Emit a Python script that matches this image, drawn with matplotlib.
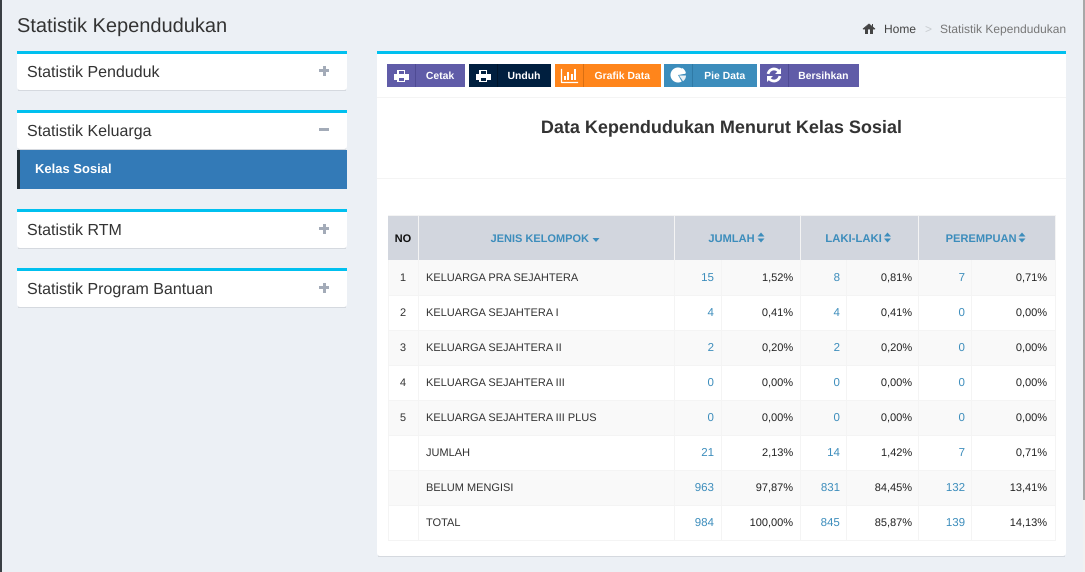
import matplotlib
matplotlib.use('Agg')
from matplotlib import pyplot as plt
from matplotlib import patheffects
from matplotlib.patches import Rectangle, FancyBboxPatch, Wedge, Polygon, Arc

plt.rcParams['font.family'] = ['Liberation Sans', 'DejaVu Sans']

W, H = 1085, 572

# table data
row_no = ['1', '2', '3', '4', '5', '', '', '']
row_names = ['KELUARGA PRA SEJAHTERA', 'KELUARGA SEJAHTERA I', 'KELUARGA SEJAHTERA II',
             'KELUARGA SEJAHTERA III', 'KELUARGA SEJAHTERA III PLUS', 'JUMLAH',
             'BELUM MENGISI', 'TOTAL']
jumlah = [15, 4, 2, 0, 0, 21, 963, 984]
jumlah_pct = ['1,52%', '0,41%', '0,20%', '0,00%', '0,00%', '2,13%', '97,87%', '100,00%']
laki = [8, 4, 2, 0, 0, 14, 831, 845]
laki_pct = ['0,81%', '0,41%', '0,20%', '0,00%', '0,00%', '1,42%', '84,45%', '85,87%']
perempuan = [7, 0, 0, 0, 0, 7, 132, 139]
perempuan_pct = ['0,71%', '0,00%', '0,00%', '0,00%', '0,00%', '0,71%', '13,41%', '14,13%']

headers = ['JENIS KELOMPOK', 'JUMLAH', 'LAKI-LAKI', 'PEREMPUAN']
side_panels = ['Statistik Penduduk', 'Statistik Keluarga', 'Statistik RTM', 'Statistik Program Bantuan']
button_labels = ['Cetak', 'Unduh', 'Grafik Data', 'Pie Data', 'Bersihkan']

BG = '#ecf0f5'
CYAN = '#00c0ef'
LINK = '#3c8dbc'
TEXT = '#333333'
LINE = '#f4f4f4'

fig = plt.figure(figsize=(W / 100, H / 100), dpi=100, facecolor=BG)
ax = fig.add_axes([0, 0, 1, 1])
ax.set_xlim(0, W)
ax.set_ylim(H, 0)
ax.axis('off')


def rect(x0, y0, x1, y1, color, z=1):
    ax.add_patch(Rectangle((x0, y0), x1 - x0, y1 - y0, fc=color, ec='none', lw=0, zorder=z))


def txt(x, y, s, size, color=TEXT, ha='left', weight='normal', z=5):
    # size is in css pixels, y is the baseline
    # the path effect keeps every baseline on the same pixel row
    ax.text(x, y, s, fontsize=size * 0.72, color=color, ha=ha, va='baseline',
            fontweight=weight, zorder=z, path_effects=[patheffects.Normal()])


def card(x0, y0, x1, y1):
    rect(x0 + 1, y1 - 1, x1 - 1, y1 + 1, '#d5d9df', 1)
    ax.add_patch(FancyBboxPatch((x0 + 2, y0 + 2), x1 - x0 - 4, y1 - y0 - 4,
                                boxstyle='round,pad=2,rounding_size=3', fc='white', ec='none', zorder=2))
    rect(x0, y0, x1, y0 + 3, CYAN, 3)


def printer(cx, cy, color, hole):
    rect(cx - 4, cy - 6, cx + 4, cy - 2, color, 6)
    rect(cx - 2.5, cy - 4.5, cx + 2.5, cy - 2, hole, 6)
    rect(cx - 7.5, cy - 2, cx + 7.5, cy + 4, color, 6)
    rect(cx - 4, cy + 1, cx + 4, cy + 6.5, color, 6)
    rect(cx - 2.5, cy + 2, cx + 2.5, cy + 5, hole, 7)


def bars_icon(cx, cy):
    ax.plot([cx - 8, cx - 8, cx + 8], [cy - 6, cy + 6.5, cy + 6.5], color='white', lw=0.9, zorder=6)
    for dx, top in [(-5.5, 1), (-2, -3), (1.5, -1), (4.5, -6)]:
        rect(cx + dx, cy + top, cx + dx + 2.2, cy + 5, 'white', 6)


def pie_icon(cx, cy):
    # y axis is flipped, so angles run clockwise on screen
    ax.add_patch(Wedge((cx, cy), 7.5, 60, 350, fc='white', ec='none', zorder=6))
    ax.add_patch(Wedge((cx + 1, cy + 0.5), 7, 0, 55, fc='#e8eff4', ec='none', zorder=6))
    ax.add_patch(Wedge((cx + 0.5, cy - 0.5), 7.5, 300, 350, fc='white', ec='none', zorder=6))


def refresh_icon(cx, cy):
    ax.add_patch(Arc((cx, cy), 12, 12, theta1=190, theta2=330, ec='white', lw=2, zorder=6))
    ax.add_patch(Arc((cx, cy), 12, 12, theta1=10, theta2=150, ec='white', lw=2, zorder=6))
    ax.add_patch(Polygon([(cx + 7, cy - 7), (cx + 7, cy - 1), (cx + 1, cy - 1)], fc='white', ec='none', zorder=6))
    ax.add_patch(Polygon([(cx - 7, cy + 7), (cx - 7, cy + 1), (cx - 1, cy + 1)], fc='white', ec='none', zorder=6))


def home_icon(cx, cy, color):
    ax.add_patch(Polygon([(cx - 6, cy), (cx, cy - 5), (cx + 6, cy)], fc=color, ec=color, lw=0.6, zorder=6))
    rect(cx - 4, cy - 0.5, cx - 0.8, cy + 4.5, color, 6)
    rect(cx + 0.8, cy - 0.5, cx + 4, cy + 4.5, color, 6)
    rect(cx + 2.5, cy - 5, cx + 4, cy - 1.5, color, 6)


def sort_icon(cx, cy, up=True):
    color = LINK
    if up:
        ax.add_patch(Polygon([(cx - 3.5, cy - 1), (cx + 3.5, cy - 1), (cx, cy - 5)], fc=color, ec='none', zorder=6))
    ax.add_patch(Polygon([(cx - 3.5, cy + 1), (cx + 3.5, cy + 1), (cx, cy + 5)], fc=color, ec='none', zorder=6))


# page edges
rect(0, 0, 1.5, H, '#3a3f44', 1)
rect(1083, 0, W, H, '#f1f1f1', 1)
rect(1083, 0, W, 500, '#a8a8a8', 1)

txt(17, 32, 'Statistik Kependudukan', 20)
home_icon(869, 29, '#444444')
txt(884, 33, 'Home', 12, '#444444')
txt(925, 33, '>', 12, '#c8ccd0')
txt(940, 33, 'Statistik Kependudukan', 12, '#777777')

# side panels
panel_tops = [51, 110, 209, 268]
for name, top in zip(side_panels, panel_tops):
    bottom = top + 39
    card(17, top, 347, bottom)
    txt(27, top + 26, name, 16)
    rect(319, top + 18, 329, top + 21, '#a3abb8', 6)
    if name != 'Statistik Keluarga':
        rect(322.5, top + 14.5, 325.5, top + 24.5, '#a3abb8', 6)
rect(17, 150, 347, 189, '#337ab7', 4)
rect(17, 150, 20, 189, '#222d32', 5)
txt(35, 173, 'Kelas Sosial', 13, 'white', weight='bold')

# main box
card(377, 51, 1066, 556)
rect(377, 97, 1066, 98, '#f4f4f4', 3)
rect(377, 178, 1066, 179, '#f4f4f4', 3)
txt(721.5, 133, 'Data Kependudukan Menurut Kelas Sosial', 18, ha='center', weight='bold')

# buttons
button_edges = [(387, 465, 415), (469, 551, 497), (555, 661, 583.5), (664, 757, 692.5), (760, 859, 788)]
button_colors = ['#605ca8', '#001f3f', '#ff851b', '#3c8dbc', '#605ca8']
divider_colors = ['#4f4b94', '#00152b', '#d96f12', '#2f7aa6', '#4f4b94']
for label, (x0, x1, xd), col, dcol in zip(button_labels, button_edges, button_colors, divider_colors):
    rect(x0, 64, x1, 87, col, 4)
    rect(xd - 0.5, 64, xd + 0.5, 87, dcol, 5)
    txt((xd + x1) / 2, 79, label, 10.4, 'white', ha='center', weight='bold')
printer(401, 75.5, 'white', button_colors[0])
printer(483, 75.5, 'white', button_colors[1])
bars_icon(569, 75)
pie_icon(678, 75)
refresh_icon(774, 75)

# table
col_edges = [388, 418, 674, 721, 800, 846, 918, 971, 1055]
head_top, head_bottom = 216, 260
row_h = 35
n_rows = len(row_names)
table_bottom = head_bottom + row_h * n_rows

rect(388, head_top, 1055, head_bottom, '#d2d6de', 3)
for i in range(n_rows):
    if i % 2 == 0:
        rect(388, head_bottom + i * row_h, 1055, head_bottom + (i + 1) * row_h, '#f9f9f9', 3)
    ax.plot([388, 1055], [head_bottom + (i + 1) * row_h] * 2, color=LINE, lw=0.72, zorder=4)
for xe in col_edges:
    ax.plot([xe, xe], [head_bottom, table_bottom], color=LINE, lw=0.72, zorder=4)
for xe in [418, 674, 800, 918]:
    ax.plot([xe, xe], [head_top, head_bottom], color='#f4f4f4', lw=0.72, zorder=4)
ax.plot([388, 1055], [215, 215], color=LINE, lw=0.72, zorder=4)
ax.plot([1055, 1055], [215, table_bottom], color=LINE, lw=0.72, zorder=4)

hy = 242
txt(403, hy, 'NO', 11, '#111111', ha='center', weight='bold')
txt(540, hy, headers[0], 11, LINK, ha='center', weight='bold')
sort_icon(596, hy - 5, up=False)
txt(731.5, hy, headers[1], 11.1, LINK, ha='center', weight='bold')
sort_icon(761, hy - 4.5)
txt(853.5, hy, headers[2], 11.3, LINK, ha='center', weight='bold')
sort_icon(887.5, hy - 4.5)
txt(981, hy, headers[3], 11.1, LINK, ha='center', weight='bold')
sort_icon(1022, hy - 4.5)

for i in range(n_rows):
    y = head_bottom + i * row_h + 21
    txt(403, y, row_no[i], 11, TEXT, ha='center')
    txt(426, y, row_names[i], 11, TEXT)
    txt(714, y, str(jumlah[i]), 11.5, LINK, ha='right')
    txt(793, y, jumlah_pct[i], 11, '#222222', ha='right')
    txt(840, y, str(laki[i]), 11.5, LINK, ha='right')
    txt(912, y, laki_pct[i], 11, '#222222', ha='right')
    txt(965, y, str(perempuan[i]), 11.5, LINK, ha='right')
    txt(1047, y, perempuan_pct[i], 11, '#222222', ha='right')

fig.savefig('out.png', dpi=100, facecolor=BG)
